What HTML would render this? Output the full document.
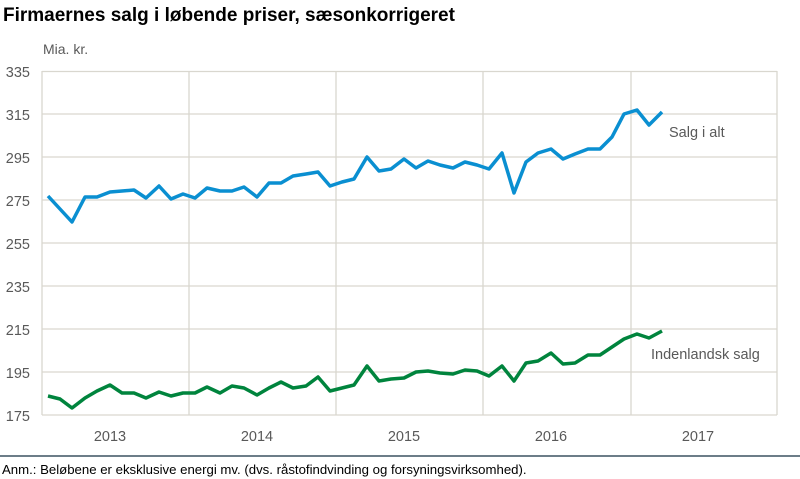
<!DOCTYPE html>
<html><head><meta charset="utf-8"><style>
html,body{margin:0;padding:0;background:#fff;}
svg{display:block;font-family:"Liberation Sans",Arial,sans-serif;}
</style></head><body>
<svg width="800" height="479" viewBox="0 0 800 479" xmlns="http://www.w3.org/2000/svg">
<text x="3" y="21" font-size="19" font-weight="bold" fill="#000">Firmaernes salg i løbende priser, sæsonkorrigeret</text>
<text x="43" y="54" font-size="14" fill="#595959">Mia. kr.</text>
<g stroke="#d9d7cf" stroke-width="1.3" fill="none">
<line x1="42" y1="71.5" x2="777" y2="71.5"/>
<line x1="42" y1="114" x2="777" y2="114"/>
<line x1="42" y1="157" x2="777" y2="157"/>
<line x1="42" y1="200" x2="777" y2="200"/>
<line x1="42" y1="243" x2="777" y2="243"/>
<line x1="42" y1="286" x2="777" y2="286"/>
<line x1="42" y1="329" x2="777" y2="329"/>
<line x1="42" y1="372" x2="777" y2="372"/>
<line x1="42" y1="415" x2="777" y2="415"/>
<line x1="42" y1="71" x2="42" y2="415"/>
<line x1="189" y1="71" x2="189" y2="415"/>
<line x1="336" y1="71" x2="336" y2="415"/>
<line x1="483" y1="71" x2="483" y2="415"/>
<line x1="631" y1="71" x2="631" y2="415"/>
<line x1="777" y1="71" x2="777" y2="415"/>
</g>
<g font-size="14.5" fill="#595959" text-anchor="end">
<text x="30" y="77">335</text><text x="30" y="120">315</text><text x="30" y="163">295</text>
<text x="30" y="206">275</text><text x="30" y="249">255</text><text x="30" y="292">235</text>
<text x="30" y="335">215</text><text x="30" y="378">195</text><text x="30" y="421">175</text>
</g>
<g font-size="14.5" fill="#595959" text-anchor="middle">
<text x="110" y="441">2013</text><text x="257" y="441">2014</text><text x="404" y="441">2015</text>
<text x="551" y="441">2016</text><text x="698" y="441">2017</text>
</g>
<polyline fill="none" stroke="#0a8fd1" stroke-width="3.5" stroke-linejoin="round" points="48,196 60,209 72,222 85,197 97,197 110,192 122,191 134,190 146,198 159,186 171,199 183,194 195,198 207,188 220,191 232,191 244,187 257,197 269,183 281,183 293,176 306,174 318,172 330,186 342,182 354,179 367,157 379,171 391,169 404,159 416,168 428,161 440,165 453,168 465,162 477,165 489,169 502,153 514,193 526,162 538,153 551,149 563,159 575,154 588,149 600,149 612,137 624,114 637,110 649,125 662,112"/>
<polyline fill="none" stroke="#00843d" stroke-width="3.5" stroke-linejoin="round" points="48,396 60,399 72,408 85,398 97,391 110,385 122,393 134,393 146,398 159,392 171,396 183,393 195,393 207,387 220,393 232,386 244,388 257,395 269,388 281,382 293,388 306,386 318,377 330,391 342,388 354,385 367,366 379,381 391,379 404,378 416,372 428,371 440,373 453,374 465,370 477,371 489,376 502,366 514,381 526,363 538,361 551,353 563,364 575,363 588,355 600,355 612,347 624,339 637,334 649,338 662,331"/>
<text x="669" y="137" font-size="14.5" fill="#595959">Salg i alt</text>
<text x="651" y="359" font-size="14.5" fill="#595959">Indenlandsk salg</text>
<line x1="0" y1="456" x2="800" y2="456" stroke="#6c7d88" stroke-width="2"/>
<text x="2" y="474" font-size="13.2" fill="#000">Anm.: Beløbene er eksklusive energi mv. (dvs. råstofindvinding og forsyningsvirksomhed).</text>
</svg>
</body></html>
